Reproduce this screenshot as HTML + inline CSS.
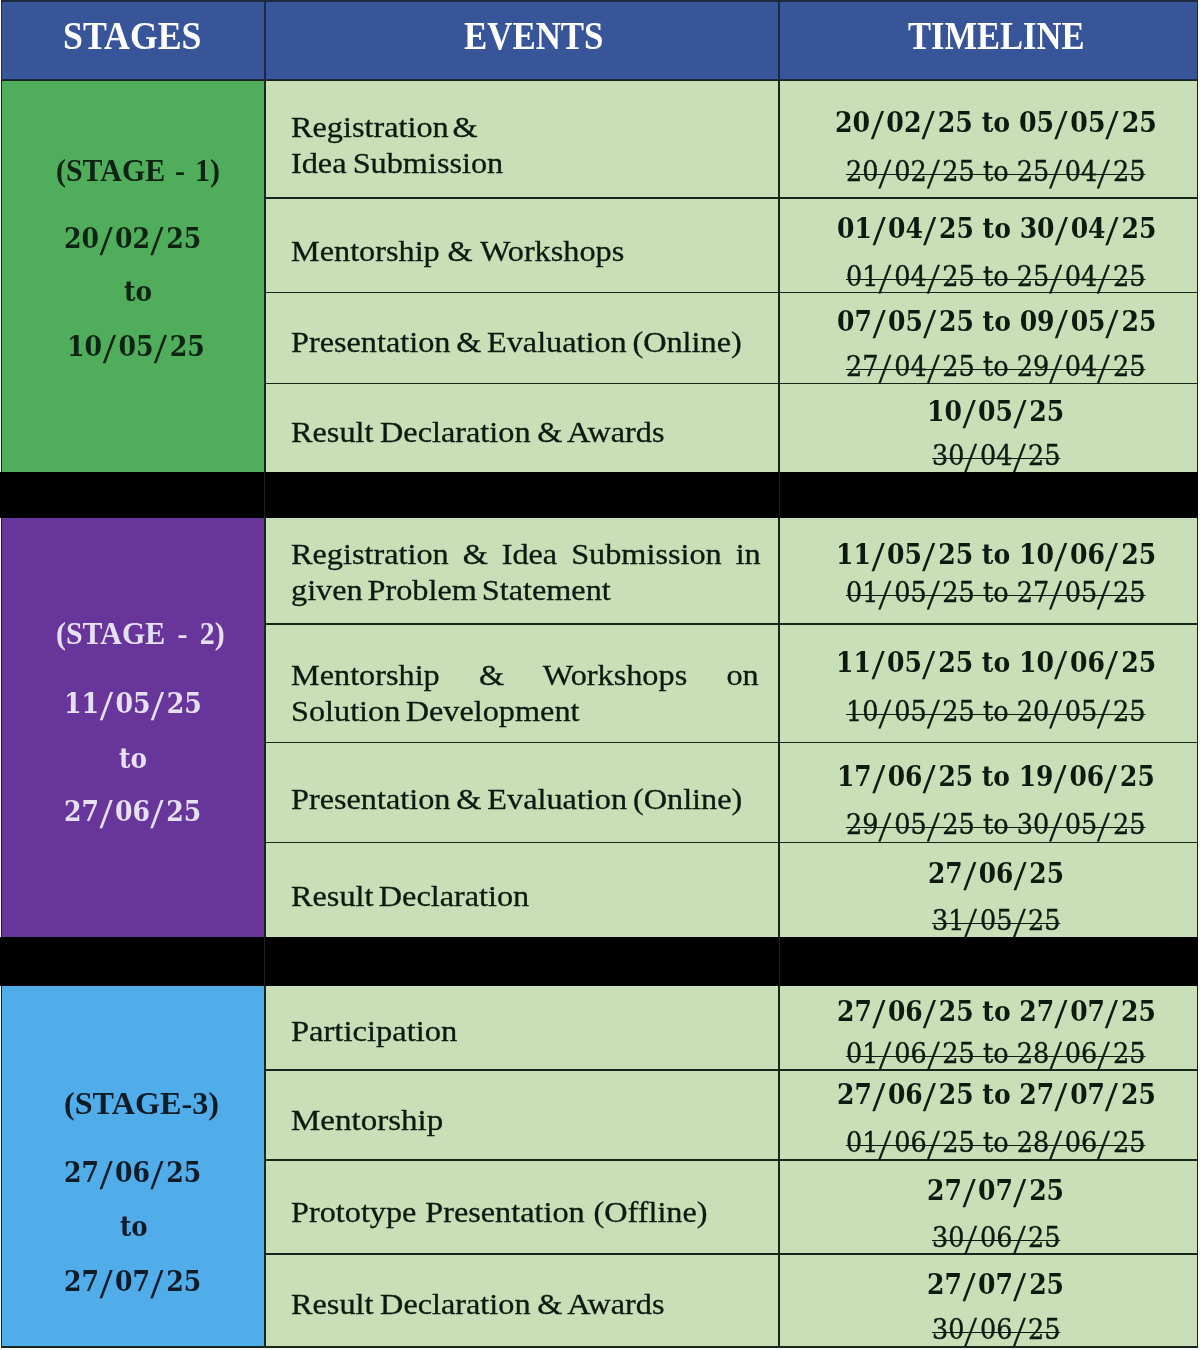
<!DOCTYPE html>
<html lang="en">
<head>
<meta charset="utf-8">
<title>Stages, Events and Timeline</title>
<style>
html,body{margin:0;padding:0;background:#fff;}
#sheet{position:relative;width:1200px;height:1350px;overflow:hidden;background:#fff;}
#grid{position:absolute;left:1px;top:0;width:1197.2px;height:1347.6px;background:#17251a;}
#grid div{height:80px;background:#1c2a40;}
.c{position:absolute;}
.t{position:absolute;white-space:pre;line-height:1;margin:0;padding:0;transform-origin:0 0;color:#0e1a10;}
.t i{font-style:normal;display:inline-block;margin:0 0.138em;transform:skewX(-9deg) scaleY(1.23);transform-origin:50% 24%;}
.h{font-family:'Liberation Serif', 'DejaVu Serif', serif;font-weight:700;font-size:39.5px;color:#fff;}
.r{font-family:'Liberation Serif', 'DejaVu Serif', serif;font-weight:400;font-size:29.6px;-webkit-text-stroke:0.3px #0e1a10;}
.b{font-family:'DejaVu Serif', 'Liberation Serif', serif;font-weight:700;font-size:27.8px;}
.k{font-family:'DejaVu Serif', 'Liberation Serif', serif;font-weight:400;font-size:27.8px;-webkit-text-stroke:0.35px #0e1a10;}
.k::after{content:'';position:absolute;left:0;right:0;top:15.85px;height:1.5px;background:#0e1a10;}
.g{font-family:'DejaVu Serif', 'Liberation Serif', serif;font-weight:700;font-size:27.8px;}
.n{font-family:'Liberation Serif', 'DejaVu Serif', serif;font-weight:700;font-size:32.0px;}
.lav{color:#e6e0f3;}
.g1{color:#0d2412;}
.g3{color:#101b28;}
</style>
</head>
<body>
<div id="sheet">
<div id="grid"><div></div></div>
<div class="c" style="left:2.00px;top:2.00px;width:262.20px;height:77.30px;background:#38559a"></div>
<div class="c" style="left:265.70px;top:2.00px;width:512.80px;height:77.30px;background:#38559a"></div>
<div class="c" style="left:779.90px;top:2.00px;width:416.90px;height:77.30px;background:#38559a"></div>
<div class="c" style="left:2.00px;top:80.70px;width:262.20px;height:391.30px;background:#50ad5c"></div>
<div class="c" style="left:2.00px;top:517.50px;width:262.20px;height:419.50px;background:#68369b"></div>
<div class="c" style="left:2.00px;top:986.40px;width:262.20px;height:359.80px;background:#51ade9"></div>
<div class="c" style="left:265.70px;top:80.70px;width:512.80px;height:116.80px;background:#c9dfb8"></div>
<div class="c" style="left:779.90px;top:80.70px;width:416.90px;height:116.80px;background:#c9dfb8"></div>
<div class="c" style="left:265.70px;top:198.90px;width:512.80px;height:92.90px;background:#c9dfb8"></div>
<div class="c" style="left:779.90px;top:198.90px;width:416.90px;height:92.90px;background:#c9dfb8"></div>
<div class="c" style="left:265.70px;top:293.20px;width:512.80px;height:89.80px;background:#c9dfb8"></div>
<div class="c" style="left:779.90px;top:293.20px;width:416.90px;height:89.80px;background:#c9dfb8"></div>
<div class="c" style="left:265.70px;top:384.40px;width:512.80px;height:87.60px;background:#c9dfb8"></div>
<div class="c" style="left:779.90px;top:384.40px;width:416.90px;height:87.60px;background:#c9dfb8"></div>
<div class="c" style="left:265.70px;top:517.50px;width:512.80px;height:105.80px;background:#c9dfb8"></div>
<div class="c" style="left:779.90px;top:517.50px;width:416.90px;height:105.80px;background:#c9dfb8"></div>
<div class="c" style="left:265.70px;top:624.70px;width:512.80px;height:117.10px;background:#c9dfb8"></div>
<div class="c" style="left:779.90px;top:624.70px;width:416.90px;height:117.10px;background:#c9dfb8"></div>
<div class="c" style="left:265.70px;top:743.20px;width:512.80px;height:98.40px;background:#c9dfb8"></div>
<div class="c" style="left:779.90px;top:743.20px;width:416.90px;height:98.40px;background:#c9dfb8"></div>
<div class="c" style="left:265.70px;top:843.00px;width:512.80px;height:94.00px;background:#c9dfb8"></div>
<div class="c" style="left:779.90px;top:843.00px;width:416.90px;height:94.00px;background:#c9dfb8"></div>
<div class="c" style="left:265.70px;top:986.40px;width:512.80px;height:82.90px;background:#c9dfb8"></div>
<div class="c" style="left:779.90px;top:986.40px;width:416.90px;height:82.90px;background:#c9dfb8"></div>
<div class="c" style="left:265.70px;top:1070.70px;width:512.80px;height:88.60px;background:#c9dfb8"></div>
<div class="c" style="left:779.90px;top:1070.70px;width:416.90px;height:88.60px;background:#c9dfb8"></div>
<div class="c" style="left:265.70px;top:1160.70px;width:512.80px;height:92.40px;background:#c9dfb8"></div>
<div class="c" style="left:779.90px;top:1160.70px;width:416.90px;height:92.40px;background:#c9dfb8"></div>
<div class="c" style="left:265.70px;top:1254.50px;width:512.80px;height:91.70px;background:#c9dfb8"></div>
<div class="c" style="left:779.90px;top:1254.50px;width:416.90px;height:91.70px;background:#c9dfb8"></div>
<div class="c" style="left:0.40px;top:472.00px;width:264.10px;height:45.50px;background:#000"></div>
<div class="c" style="left:265.40px;top:472.00px;width:513.40px;height:45.50px;background:#000"></div>
<div class="c" style="left:779.60px;top:472.00px;width:418.60px;height:45.50px;background:#000"></div>
<div class="c" style="left:0.40px;top:937.00px;width:264.10px;height:49.40px;background:#000"></div>
<div class="c" style="left:265.40px;top:937.00px;width:513.40px;height:49.40px;background:#000"></div>
<div class="c" style="left:779.60px;top:937.00px;width:418.60px;height:49.40px;background:#000"></div>
<div class="t h" style="left:63.25px;top:17px;transform:scaleX(0.9055)">STAGES</div>
<div class="t h" style="left:464.25px;top:17px;transform:scaleX(0.8826)">EVENTS</div>
<div class="t h" style="left:908.00px;top:17px;transform:scaleX(0.8740)">TIMELINE</div>
<div class="t n g1" style="left:56.00px;top:154px;word-spacing:2.63px;transform:scaleX(0.9350)">(STAGE - 1)</div>
<div class="t g g1" style="left:64.25px;top:225px;transform:scaleX(0.9048)">20<i>/</i>02<i>/</i>25</div>
<div class="t g g1" style="left:123.50px;top:278px;transform:scaleX(0.8936)">to</div>
<div class="t g g1" style="left:67.30px;top:333px;transform:scaleX(0.9094)">10<i>/</i>05<i>/</i>25</div>
<div class="t n lav" style="left:56.00px;top:617px;word-spacing:5.20px;transform:scaleX(0.9350)">(STAGE - 2)</div>
<div class="t g lav" style="left:63.55px;top:690px;transform:scaleX(0.9094)">11<i>/</i>05<i>/</i>25</div>
<div class="t g lav" style="left:119.00px;top:745px;transform:scaleX(0.8936)">to</div>
<div class="t g lav" style="left:64.25px;top:798px;transform:scaleX(0.9048)">27<i>/</i>06<i>/</i>25</div>
<div class="t n g3" style="left:63.50px;top:1087px;transform:scaleX(1.0057)">(STAGE-3)</div>
<div class="t g g3" style="left:64.25px;top:1159px;transform:scaleX(0.9048)">27<i>/</i>06<i>/</i>25</div>
<div class="t g g3" style="left:119.75px;top:1213px;transform:scaleX(0.8840)">to</div>
<div class="t g g3" style="left:64.25px;top:1268px;transform:scaleX(0.9048)">27<i>/</i>07<i>/</i>25</div>
<div class="t r" style="left:290.50px;top:113px;word-spacing:-3.98px;transform:scaleX(1.0900)">Registration &amp;</div>
<div class="t r" style="left:290.50px;top:149px;word-spacing:-1.74px;transform:scaleX(1.0900)">Idea Submission</div>
<div class="t r" style="left:290.50px;top:237px;word-spacing:-0.22px;transform:scaleX(1.0900)">Mentorship &amp; Workshops</div>
<div class="t r" style="left:290.50px;top:328px;word-spacing:-2.15px;transform:scaleX(1.0900)">Presentation &amp; Evaluation (Online)</div>
<div class="t r" style="left:290.50px;top:418px;word-spacing:-1.31px;transform:scaleX(1.0900)">Result Declaration &amp; Awards</div>
<div class="t r" style="left:290.50px;top:540px;word-spacing:5.40px;transform:scaleX(1.0900)">Registration &amp; Idea Submission in</div>
<div class="t r" style="left:290.50px;top:576px;word-spacing:-2.92px;transform:scaleX(1.0900)">given Problem Statement</div>
<div class="t r" style="left:290.50px;top:661px;word-spacing:28.65px;transform:scaleX(1.0900)">Mentorship &amp; Workshops on</div>
<div class="t r" style="left:290.50px;top:697px;word-spacing:-2.46px;transform:scaleX(1.0900)">Solution Development</div>
<div class="t r" style="left:290.50px;top:785px;word-spacing:-1.99px;transform:scaleX(1.0900)">Presentation &amp; Evaluation (Online)</div>
<div class="t r" style="left:290.50px;top:882px;word-spacing:-2.48px;transform:scaleX(1.0900)">Result Declaration</div>
<div class="t r" style="left:290.50px;top:1017px;transform:scaleX(1.0993)">Participation</div>
<div class="t r" style="left:290.50px;top:1106px;transform:scaleX(1.1158)">Mentorship</div>
<div class="t r" style="left:290.50px;top:1198px;word-spacing:0.67px;transform:scaleX(1.0900)">Prototype Presentation (Offline)</div>
<div class="t r" style="left:290.50px;top:1290px;word-spacing:-1.29px;transform:scaleX(1.0900)">Result Declaration &amp; Awards</div>
<div class="t b" style="left:834.85px;top:109px;transform:scaleX(0.9090)">20<i>/</i>02<i>/</i>25 to 05<i>/</i>05<i>/</i>25</div>
<div class="t k" style="left:846.25px;top:158px;transform:scaleX(0.9188)">20<i>/</i>02<i>/</i>25 to 25<i>/</i>04<i>/</i>25</div>
<div class="t b" style="left:836.65px;top:215px;transform:scaleX(0.9023)">01<i>/</i>04<i>/</i>25 to 30<i>/</i>04<i>/</i>25</div>
<div class="t k" style="left:846.25px;top:263px;transform:scaleX(0.9188)">01<i>/</i>04<i>/</i>25 to 25<i>/</i>04<i>/</i>25</div>
<div class="t b" style="left:836.65px;top:308px;transform:scaleX(0.9023)">07<i>/</i>05<i>/</i>25 to 09<i>/</i>05<i>/</i>25</div>
<div class="t k" style="left:846.25px;top:353px;transform:scaleX(0.9188)">27<i>/</i>04<i>/</i>25 to 29<i>/</i>04<i>/</i>25</div>
<div class="t b" style="left:926.55px;top:398px;transform:scaleX(0.9045)">10<i>/</i>05<i>/</i>25</div>
<div class="t k" style="left:931.75px;top:442px;transform:scaleX(0.9166)">30<i>/</i>04<i>/</i>25</div>
<div class="t b" style="left:836.05px;top:541px;transform:scaleX(0.9040)">11<i>/</i>05<i>/</i>25 to 10<i>/</i>06<i>/</i>25</div>
<div class="t k" style="left:846.25px;top:579px;transform:scaleX(0.9188)">01<i>/</i>05<i>/</i>25 to 27<i>/</i>05<i>/</i>25</div>
<div class="t b" style="left:836.05px;top:649px;transform:scaleX(0.9040)">11<i>/</i>05<i>/</i>25 to 10<i>/</i>06<i>/</i>25</div>
<div class="t k" style="left:846.25px;top:698px;transform:scaleX(0.9188)">10<i>/</i>05<i>/</i>25 to 20<i>/</i>05<i>/</i>25</div>
<div class="t b" style="left:836.55px;top:763px;transform:scaleX(0.8975)">17<i>/</i>06<i>/</i>25 to 19<i>/</i>06<i>/</i>25</div>
<div class="t k" style="left:846.25px;top:811px;transform:scaleX(0.9188)">29<i>/</i>05<i>/</i>25 to 30<i>/</i>05<i>/</i>25</div>
<div class="t b" style="left:927.75px;top:860px;transform:scaleX(0.8966)">27<i>/</i>06<i>/</i>25</div>
<div class="t k" style="left:931.75px;top:907px;transform:scaleX(0.9166)">31<i>/</i>05<i>/</i>25</div>
<div class="t b" style="left:837.25px;top:998px;transform:scaleX(0.9006)">27<i>/</i>06<i>/</i>25 to 27<i>/</i>07<i>/</i>25</div>
<div class="t k" style="left:846.25px;top:1040px;transform:scaleX(0.9188)">01<i>/</i>06<i>/</i>25 to 28<i>/</i>06<i>/</i>25</div>
<div class="t b" style="left:837.25px;top:1081px;transform:scaleX(0.9006)">27<i>/</i>06<i>/</i>25 to 27<i>/</i>07<i>/</i>25</div>
<div class="t k" style="left:846.25px;top:1129px;transform:scaleX(0.9188)">01<i>/</i>06<i>/</i>25 to 28<i>/</i>06<i>/</i>25</div>
<div class="t b" style="left:927.25px;top:1177px;transform:scaleX(0.9038)">27<i>/</i>07<i>/</i>25</div>
<div class="t k" style="left:931.75px;top:1224px;transform:scaleX(0.9166)">30<i>/</i>06<i>/</i>25</div>
<div class="t b" style="left:927.25px;top:1271px;transform:scaleX(0.9038)">27<i>/</i>07<i>/</i>25</div>
<div class="t k" style="left:931.75px;top:1316px;transform:scaleX(0.9166)">30<i>/</i>06<i>/</i>25</div>
</div>
</body>
</html>
